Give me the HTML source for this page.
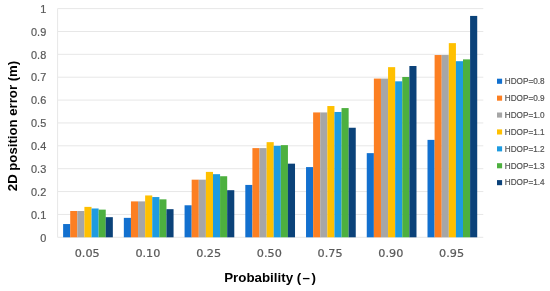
<!DOCTYPE html>
<html><head><meta charset="utf-8"><style>
html,body{margin:0;padding:0;background:#fff;}
svg{display:block;}
.g{stroke:#e7e7e7;stroke-width:1;}
.yl{font-family:"Liberation Sans",Arial,sans-serif;font-size:10.9px;fill:#585858;stroke:#585858;stroke-width:0.2px;text-anchor:end;}
.xl{font-family:"DejaVu Sans",Verdana,sans-serif;font-size:10.2px;fill:#5a5a5a;stroke:#5a5a5a;stroke-width:0.2px;text-anchor:middle;}
.lg{font-family:"Liberation Sans",Arial,sans-serif;font-size:8.7px;fill:#525252;stroke:#525252;stroke-width:0.2px;}
.t{font-family:"Liberation Sans",Arial,sans-serif;font-size:13.33px;font-weight:bold;fill:#000;}
</style></head><body>
<svg width="550" height="291" viewBox="0 0 550 291">
<rect width="550" height="291" fill="#fff"/>
<line x1="57.6" y1="237.3" x2="483.3" y2="237.3" class="g"/>
<line x1="57.6" y1="214.43" x2="483.3" y2="214.43" class="g"/>
<line x1="57.6" y1="191.56" x2="483.3" y2="191.56" class="g"/>
<line x1="57.6" y1="168.69" x2="483.3" y2="168.69" class="g"/>
<line x1="57.6" y1="145.82" x2="483.3" y2="145.82" class="g"/>
<line x1="57.6" y1="122.95" x2="483.3" y2="122.95" class="g"/>
<line x1="57.6" y1="100.08" x2="483.3" y2="100.08" class="g"/>
<line x1="57.6" y1="77.21" x2="483.3" y2="77.21" class="g"/>
<line x1="57.6" y1="54.34" x2="483.3" y2="54.34" class="g"/>
<line x1="57.6" y1="31.47" x2="483.3" y2="31.47" class="g"/>
<line x1="57.6" y1="8.6" x2="483.3" y2="8.6" class="g"/>
<line x1="57.6" y1="8.6" x2="57.6" y2="237.3" class="g"/>
<rect x="63.12" y="224.04" width="7.12" height="13.26" fill="#1270cf"/>
<rect x="70.22" y="211" width="7.12" height="26.3" fill="#fc7f22"/>
<rect x="77.31" y="211" width="7.12" height="26.3" fill="#a6a6a6"/>
<rect x="84.41" y="206.88" width="7.12" height="30.42" fill="#ffc000"/>
<rect x="91.52" y="208.48" width="7.12" height="28.82" fill="#1e9be0"/>
<rect x="98.62" y="209.63" width="7.12" height="27.67" fill="#4db03f"/>
<rect x="105.72" y="217.17" width="7.12" height="20.13" fill="#0b4279"/>
<rect x="123.84" y="217.86" width="7.12" height="19.44" fill="#1270cf"/>
<rect x="130.94" y="201.39" width="7.12" height="35.91" fill="#fc7f22"/>
<rect x="138.04" y="201.39" width="7.12" height="35.91" fill="#a6a6a6"/>
<rect x="145.14" y="195.45" width="7.12" height="41.85" fill="#ffc000"/>
<rect x="152.25" y="197.05" width="7.12" height="40.25" fill="#1e9be0"/>
<rect x="159.34" y="199.34" width="7.12" height="37.96" fill="#4db03f"/>
<rect x="166.44" y="209.17" width="7.12" height="28.13" fill="#0b4279"/>
<rect x="184.57" y="205.28" width="7.12" height="32.02" fill="#1270cf"/>
<rect x="191.67" y="179.67" width="7.12" height="57.63" fill="#fc7f22"/>
<rect x="198.77" y="179.67" width="7.12" height="57.63" fill="#a6a6a6"/>
<rect x="205.88" y="171.89" width="7.12" height="65.41" fill="#ffc000"/>
<rect x="212.97" y="174.18" width="7.12" height="63.12" fill="#1e9be0"/>
<rect x="220.07" y="176.24" width="7.12" height="61.06" fill="#4db03f"/>
<rect x="227.17" y="190.19" width="7.12" height="47.11" fill="#0b4279"/>
<rect x="245.31" y="184.93" width="7.12" height="52.37" fill="#1270cf"/>
<rect x="252.41" y="148.11" width="7.12" height="89.19" fill="#fc7f22"/>
<rect x="259.5" y="148.11" width="7.12" height="89.19" fill="#a6a6a6"/>
<rect x="266.61" y="142.16" width="7.12" height="95.14" fill="#ffc000"/>
<rect x="273.7" y="145.82" width="7.12" height="91.48" fill="#1e9be0"/>
<rect x="280.81" y="145.13" width="7.12" height="92.17" fill="#4db03f"/>
<rect x="287.9" y="163.66" width="7.12" height="73.64" fill="#0b4279"/>
<rect x="306.03" y="167.09" width="7.12" height="70.21" fill="#1270cf"/>
<rect x="313.13" y="112.43" width="7.12" height="124.87" fill="#fc7f22"/>
<rect x="320.23" y="112.43" width="7.12" height="124.87" fill="#a6a6a6"/>
<rect x="327.33" y="106.03" width="7.12" height="131.27" fill="#ffc000"/>
<rect x="334.43" y="111.97" width="7.12" height="125.33" fill="#1e9be0"/>
<rect x="341.53" y="108.08" width="7.12" height="129.22" fill="#4db03f"/>
<rect x="348.63" y="127.75" width="7.12" height="109.55" fill="#0b4279"/>
<rect x="366.76" y="153.14" width="7.12" height="84.16" fill="#1270cf"/>
<rect x="373.87" y="78.58" width="7.12" height="158.72" fill="#fc7f22"/>
<rect x="380.96" y="78.58" width="7.12" height="158.72" fill="#a6a6a6"/>
<rect x="388.06" y="67.15" width="7.12" height="170.15" fill="#ffc000"/>
<rect x="395.16" y="81.33" width="7.12" height="155.97" fill="#1e9be0"/>
<rect x="402.26" y="76.98" width="7.12" height="160.32" fill="#4db03f"/>
<rect x="409.37" y="66" width="7.12" height="171.3" fill="#0b4279"/>
<rect x="427.5" y="139.87" width="7.12" height="97.43" fill="#1270cf"/>
<rect x="434.6" y="55.03" width="7.12" height="182.27" fill="#fc7f22"/>
<rect x="441.69" y="55.03" width="7.12" height="182.27" fill="#a6a6a6"/>
<rect x="448.8" y="43.13" width="7.12" height="194.17" fill="#ffc000"/>
<rect x="455.89" y="61.2" width="7.12" height="176.1" fill="#1e9be0"/>
<rect x="463" y="59.37" width="7.12" height="177.93" fill="#4db03f"/>
<rect x="470.1" y="15.92" width="7.12" height="221.38" fill="#0b4279"/>
<text x="46.2" y="241.5" class="yl">0</text>
<text x="46.2" y="218.63" class="yl">0.1</text>
<text x="46.2" y="195.76" class="yl">0.2</text>
<text x="46.2" y="172.89" class="yl">0.3</text>
<text x="46.2" y="150.02" class="yl">0.4</text>
<text x="46.2" y="127.15" class="yl">0.5</text>
<text x="46.2" y="104.28" class="yl">0.6</text>
<text x="46.2" y="81.41" class="yl">0.7</text>
<text x="46.2" y="58.54" class="yl">0.8</text>
<text x="46.2" y="35.67" class="yl">0.9</text>
<text x="46.2" y="12.8" class="yl">1</text>
<text transform="translate(87.17,257) scale(1.1,1)" class="xl">0.05</text>
<text transform="translate(147.89,257) scale(1.1,1)" class="xl">0.10</text>
<text transform="translate(208.62,257) scale(1.1,1)" class="xl">0.25</text>
<text transform="translate(269.35,257) scale(1.1,1)" class="xl">0.50</text>
<text transform="translate(330.08,257) scale(1.1,1)" class="xl">0.75</text>
<text transform="translate(390.81,257) scale(1.1,1)" class="xl">0.90</text>
<text transform="translate(451.55,257) scale(1.1,1)" class="xl">0.95</text>
<rect x="497" y="78.7" width="5.1" height="5.1" fill="#1270cf"/>
<text transform="translate(504.8,84) scale(0.94,1)" class="lg">HDOP=0.8</text>
<rect x="497" y="95.6" width="5.1" height="5.1" fill="#fc7f22"/>
<text transform="translate(504.8,100.9) scale(0.94,1)" class="lg">HDOP=0.9</text>
<rect x="497" y="112.5" width="5.1" height="5.1" fill="#a6a6a6"/>
<text transform="translate(504.8,117.8) scale(0.94,1)" class="lg">HDOP=1.0</text>
<rect x="497" y="129.4" width="5.1" height="5.1" fill="#ffc000"/>
<text transform="translate(504.8,134.7) scale(0.94,1)" class="lg">HDOP=1.1</text>
<rect x="497" y="146.3" width="5.1" height="5.1" fill="#1e9be0"/>
<text transform="translate(504.8,151.6) scale(0.94,1)" class="lg">HDOP=1.2</text>
<rect x="497" y="163.2" width="5.1" height="5.1" fill="#4db03f"/>
<text transform="translate(504.8,168.5) scale(0.94,1)" class="lg">HDOP=1.3</text>
<rect x="497" y="180.1" width="5.1" height="5.1" fill="#0b4279"/>
<text transform="translate(504.8,185.4) scale(0.94,1)" class="lg">HDOP=1.4</text>
<text x="224.2" y="282" class="t">Probability <tspan letter-spacing="1.4">(–</tspan>)</text>
<text transform="translate(16.6,126) rotate(-90)" class="t" style="font-size:13.2px" text-anchor="middle">2D position error (m)</text>
</svg>
</body></html>
